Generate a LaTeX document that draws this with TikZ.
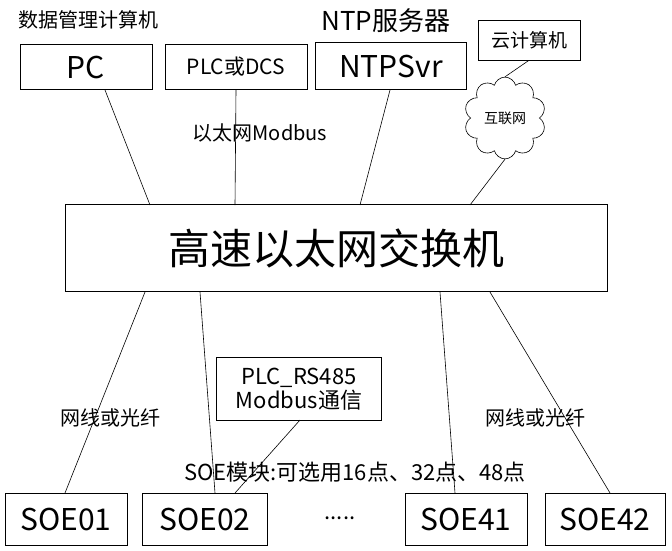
\documentclass[tikz,border=0pt]{standalone}
\usepackage{fontspec}
\setmainfont{Noto Sans CJK SC}
\usetikzlibrary{shapes.symbols}
\begin{document}
\begin{tikzpicture}[x=1pt,y=-1pt,
 bx/.style={draw,semithick,inner sep=0pt},
 ln/.style={semithick}]
\useasboundingbox (0,0) rectangle (672,550);
\node[bx,minimum width=132,minimum height=45,font=\fontsize{30}{32}\selectfont] (pc) at (86,67) {PC};
\node[font=\fontsize{20}{22}\selectfont] at (88,20) {数据管理计算机};
\node[bx,minimum width=142,minimum height=45,font=\fontsize{21}{23}\selectfont] (plc) at (236,67) {PLC或DCS};
\node[bx,minimum width=151,minimum height=47,font=\fontsize{30}{32}\selectfont] (ntp) at (391,66) {NTPSvr};
\node[font=\fontsize{26}{28}\selectfont] at (386,21) {NTP服务器};
\node[bx,minimum width=102,minimum height=40,font=\fontsize{19}{21}\selectfont] (cloudpc) at (529,40) {云计算机};
\node[cloud,draw,semithick,cloud puffs=10,minimum width=80,minimum height=58,font=\fontsize{14}{16}\selectfont] (net) at (505,118) {互联网};
\node[font=\fontsize{20}{22}\selectfont] at (260,133) {以太网Modbus};
\node[bx,minimum width=542,minimum height=87,font=\fontsize{42}{44}\selectfont] (sw) at (336,248) {高速以太网交换机};
\draw[ln] (105,90) -- (150,205);
\draw[ln] (plc.south) -- (235,205);
\draw[ln] (390,90) -- (360,205);
\draw[ln] (net.south) -- (470,205);
\draw[ln] (cloudpc.south) -- (net.north);
\node[bx,minimum width=122,minimum height=52,font=\fontsize{30}{32}\selectfont] (s1) at (66,519) {SOE01};
\node[bx,minimum width=125,minimum height=52,font=\fontsize{30}{32}\selectfont] (s2) at (205,519) {SOE02};
\node[bx,minimum width=122,minimum height=52,font=\fontsize{30}{32}\selectfont] (s41) at (466,519) {SOE41};
\node[bx,minimum width=120,minimum height=52,font=\fontsize{30}{32}\selectfont] (s42) at (605,519) {SOE42};
\node[font=\fontsize{22}{24}\selectfont] at (340,518) {.....};
\node[bx,minimum width=165,minimum height=63,align=center,font=\fontsize{22}{24}\selectfont] (rs) at (299,389) {PLC\_RS485\\Modbus通信};
\draw[ln] (145,292) -- (65,493);
\draw[ln] (200,292) -- (215,493);
\draw[ln] (440,292) -- (455,493);
\draw[ln] (490,292) -- (610,493);
\draw[ln] (300,420) -- (235,493);
\node[font=\fontsize{20}{22}\selectfont] at (110,418) {网线或光纤};
\node[font=\fontsize{20}{22}\selectfont] at (535,418) {网线或光纤};
\node[font=\fontsize{22}{24}\selectfont] at (355,472) {SOE模块:可选用16点、32点、48点};
\end{tikzpicture}
\end{document}
